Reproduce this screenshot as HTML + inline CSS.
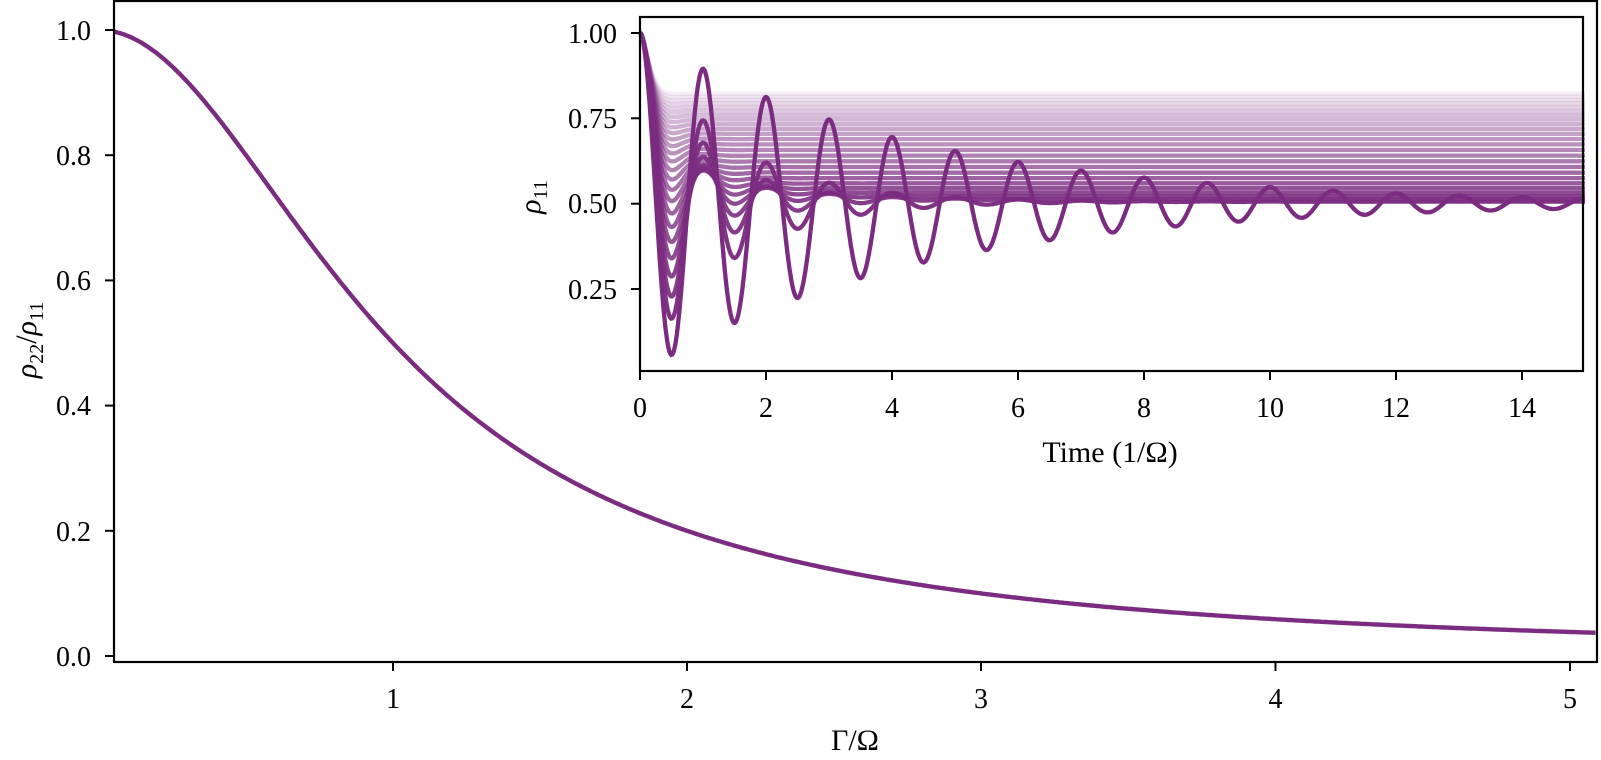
<!DOCTYPE html>
<html><head><meta charset="utf-8"><style>
html,body{margin:0;padding:0;background:#fff;}
svg{display:block;}
text{font-family:"Liberation Serif",serif;fill:#000;}
</style></head><body>
<svg id="s" width="1601" height="760" viewBox="0 0 1601 760" xmlns="http://www.w3.org/2000/svg">
<rect width="1601" height="760" fill="#fff"/>
<g id="main"></g>
<rect x="114" y="1" width="1483" height="661" fill="none" stroke="#000" stroke-width="2.2"/>
<g stroke="#000" stroke-width="2">
<line x1="105" y1="30" x2="114" y2="30"/><line x1="105" y1="155.2" x2="114" y2="155.2"/><line x1="105" y1="280.4" x2="114" y2="280.4"/><line x1="105" y1="405.6" x2="114" y2="405.6"/><line x1="105" y1="530.8" x2="114" y2="530.8"/><line x1="105" y1="656" x2="114" y2="656"/>
<line x1="393" y1="662" x2="393" y2="671"/><line x1="687" y1="662" x2="687" y2="671"/><line x1="981" y1="662" x2="981" y2="671"/><line x1="1275.5" y1="662" x2="1275.5" y2="671"/><line x1="1570" y1="662" x2="1570" y2="671"/>
</g>
<g font-size="28" text-anchor="end">
<text x="91" y="40">1.0</text><text x="91" y="165">0.8</text><text x="91" y="290">0.6</text><text x="91" y="415">0.4</text><text x="91" y="541">0.2</text><text x="91" y="666">0.0</text>
</g>
<g font-size="28" text-anchor="middle">
<text x="393" y="708">1</text><text x="687" y="708">2</text><text x="981" y="708">3</text><text x="1275.5" y="708">4</text><text x="1570" y="708">5</text>
<text x="855" y="750" font-size="30">Γ/Ω</text>
</g>
<text transform="translate(36,340) rotate(-90)" font-size="30" text-anchor="middle"><tspan font-style="italic">ρ</tspan><tspan font-size="20" dy="7">22</tspan><tspan dy="-7">/</tspan><tspan font-style="italic">ρ</tspan><tspan font-size="20" dy="7">11</tspan></text>

<rect x="640" y="17" width="943" height="354" fill="#fff"/>
<g id="inset"></g>
<rect x="640" y="17" width="943" height="354" fill="none" stroke="#000" stroke-width="2.2"/>
<g stroke="#000" stroke-width="2">
<line x1="631" y1="33" x2="640" y2="33"/><line x1="631" y1="118.3" x2="640" y2="118.3"/><line x1="631" y1="203.7" x2="640" y2="203.7"/><line x1="631" y1="289" x2="640" y2="289"/>
<line x1="640" y1="371" x2="640" y2="380"/><line x1="766" y1="371" x2="766" y2="380"/><line x1="892" y1="371" x2="892" y2="380"/><line x1="1018" y1="371" x2="1018" y2="380"/><line x1="1144" y1="371" x2="1144" y2="380"/><line x1="1270" y1="371" x2="1270" y2="380"/><line x1="1396" y1="371" x2="1396" y2="380"/><line x1="1522" y1="371" x2="1522" y2="380"/>
</g>
<g font-size="28" text-anchor="end">
<text x="617" y="43">1.00</text><text x="617" y="128">0.75</text><text x="617" y="213">0.50</text><text x="617" y="299">0.25</text>
</g>
<g font-size="28" text-anchor="middle">
<text x="640" y="417">0</text><text x="766" y="417">2</text><text x="892" y="417">4</text><text x="1018" y="417">6</text><text x="1144" y="417">8</text><text x="1270" y="417">10</text><text x="1396" y="417">12</text><text x="1522" y="417">14</text>
<text x="1110" y="462" font-size="30">Time (1/Ω)</text>
</g>
<text transform="translate(540,197) rotate(-90)" font-size="30" text-anchor="middle"><tspan font-style="italic">ρ</tspan><tspan font-size="20" dy="7">11</tspan></text>
</svg>
<script>
(function(){
var NS="http://www.w3.org/2000/svg";
var col="#7b2c80";
var d="";
for(var i=0;i<=600;i++){var g=0.05+(5.09-0.05)*i/600;var y=1/(1+g*g);
var px=99+294*g, py=656-626*y; d+=(i?"L":"M")+px.toFixed(1)+","+py.toFixed(1);}
var p=document.createElementNS(NS,"path");p.setAttribute("d",d);p.setAttribute("fill","none");p.setAttribute("stroke",col);p.setAttribute("stroke-width","4.4");
document.getElementById("main").appendChild(p);
var ins=document.getElementById("inset");
var W=2*Math.PI, N=26;
for(var k=N-1;k>=0;k--){
 var gr=(k==0)?0.05:0.155+(k-1)*0.073, G=gr*W;
 var v=0,w=-1,dt=0.005,dd="";
 var f=function(v,w){return [-G/2*v - W*w, W*v - G*(w+1)];};
 for(var s=0;s<=3000;s++){
  var t=s*dt;
  if(s%3==0){var r=(1-w)/2;var px=640+63*t,py=33+(1-r)*341.3;dd+=(dd?"L":"M")+px.toFixed(1)+","+py.toFixed(1);}
  var a=f(v,w),b=f(v+a[0]*dt/2,w+a[1]*dt/2),c=f(v+b[0]*dt/2,w+b[1]*dt/2),e=f(v+c[0]*dt,w+c[1]*dt);
  v+=dt/6*(a[0]+2*b[0]+2*c[0]+e[0]);w+=dt/6*(a[1]+2*b[1]+2*c[1]+e[1]);
 }
 var q=document.createElementNS(NS,"path");q.setAttribute("d",dd);q.setAttribute("fill","none");q.setAttribute("stroke",col);
 q.setAttribute("stroke-width","4.3");q.setAttribute("stroke-opacity",(1-0.92*k/(N-1)).toFixed(3));
 ins.appendChild(q);
}
})();
</script>
</body></html>
